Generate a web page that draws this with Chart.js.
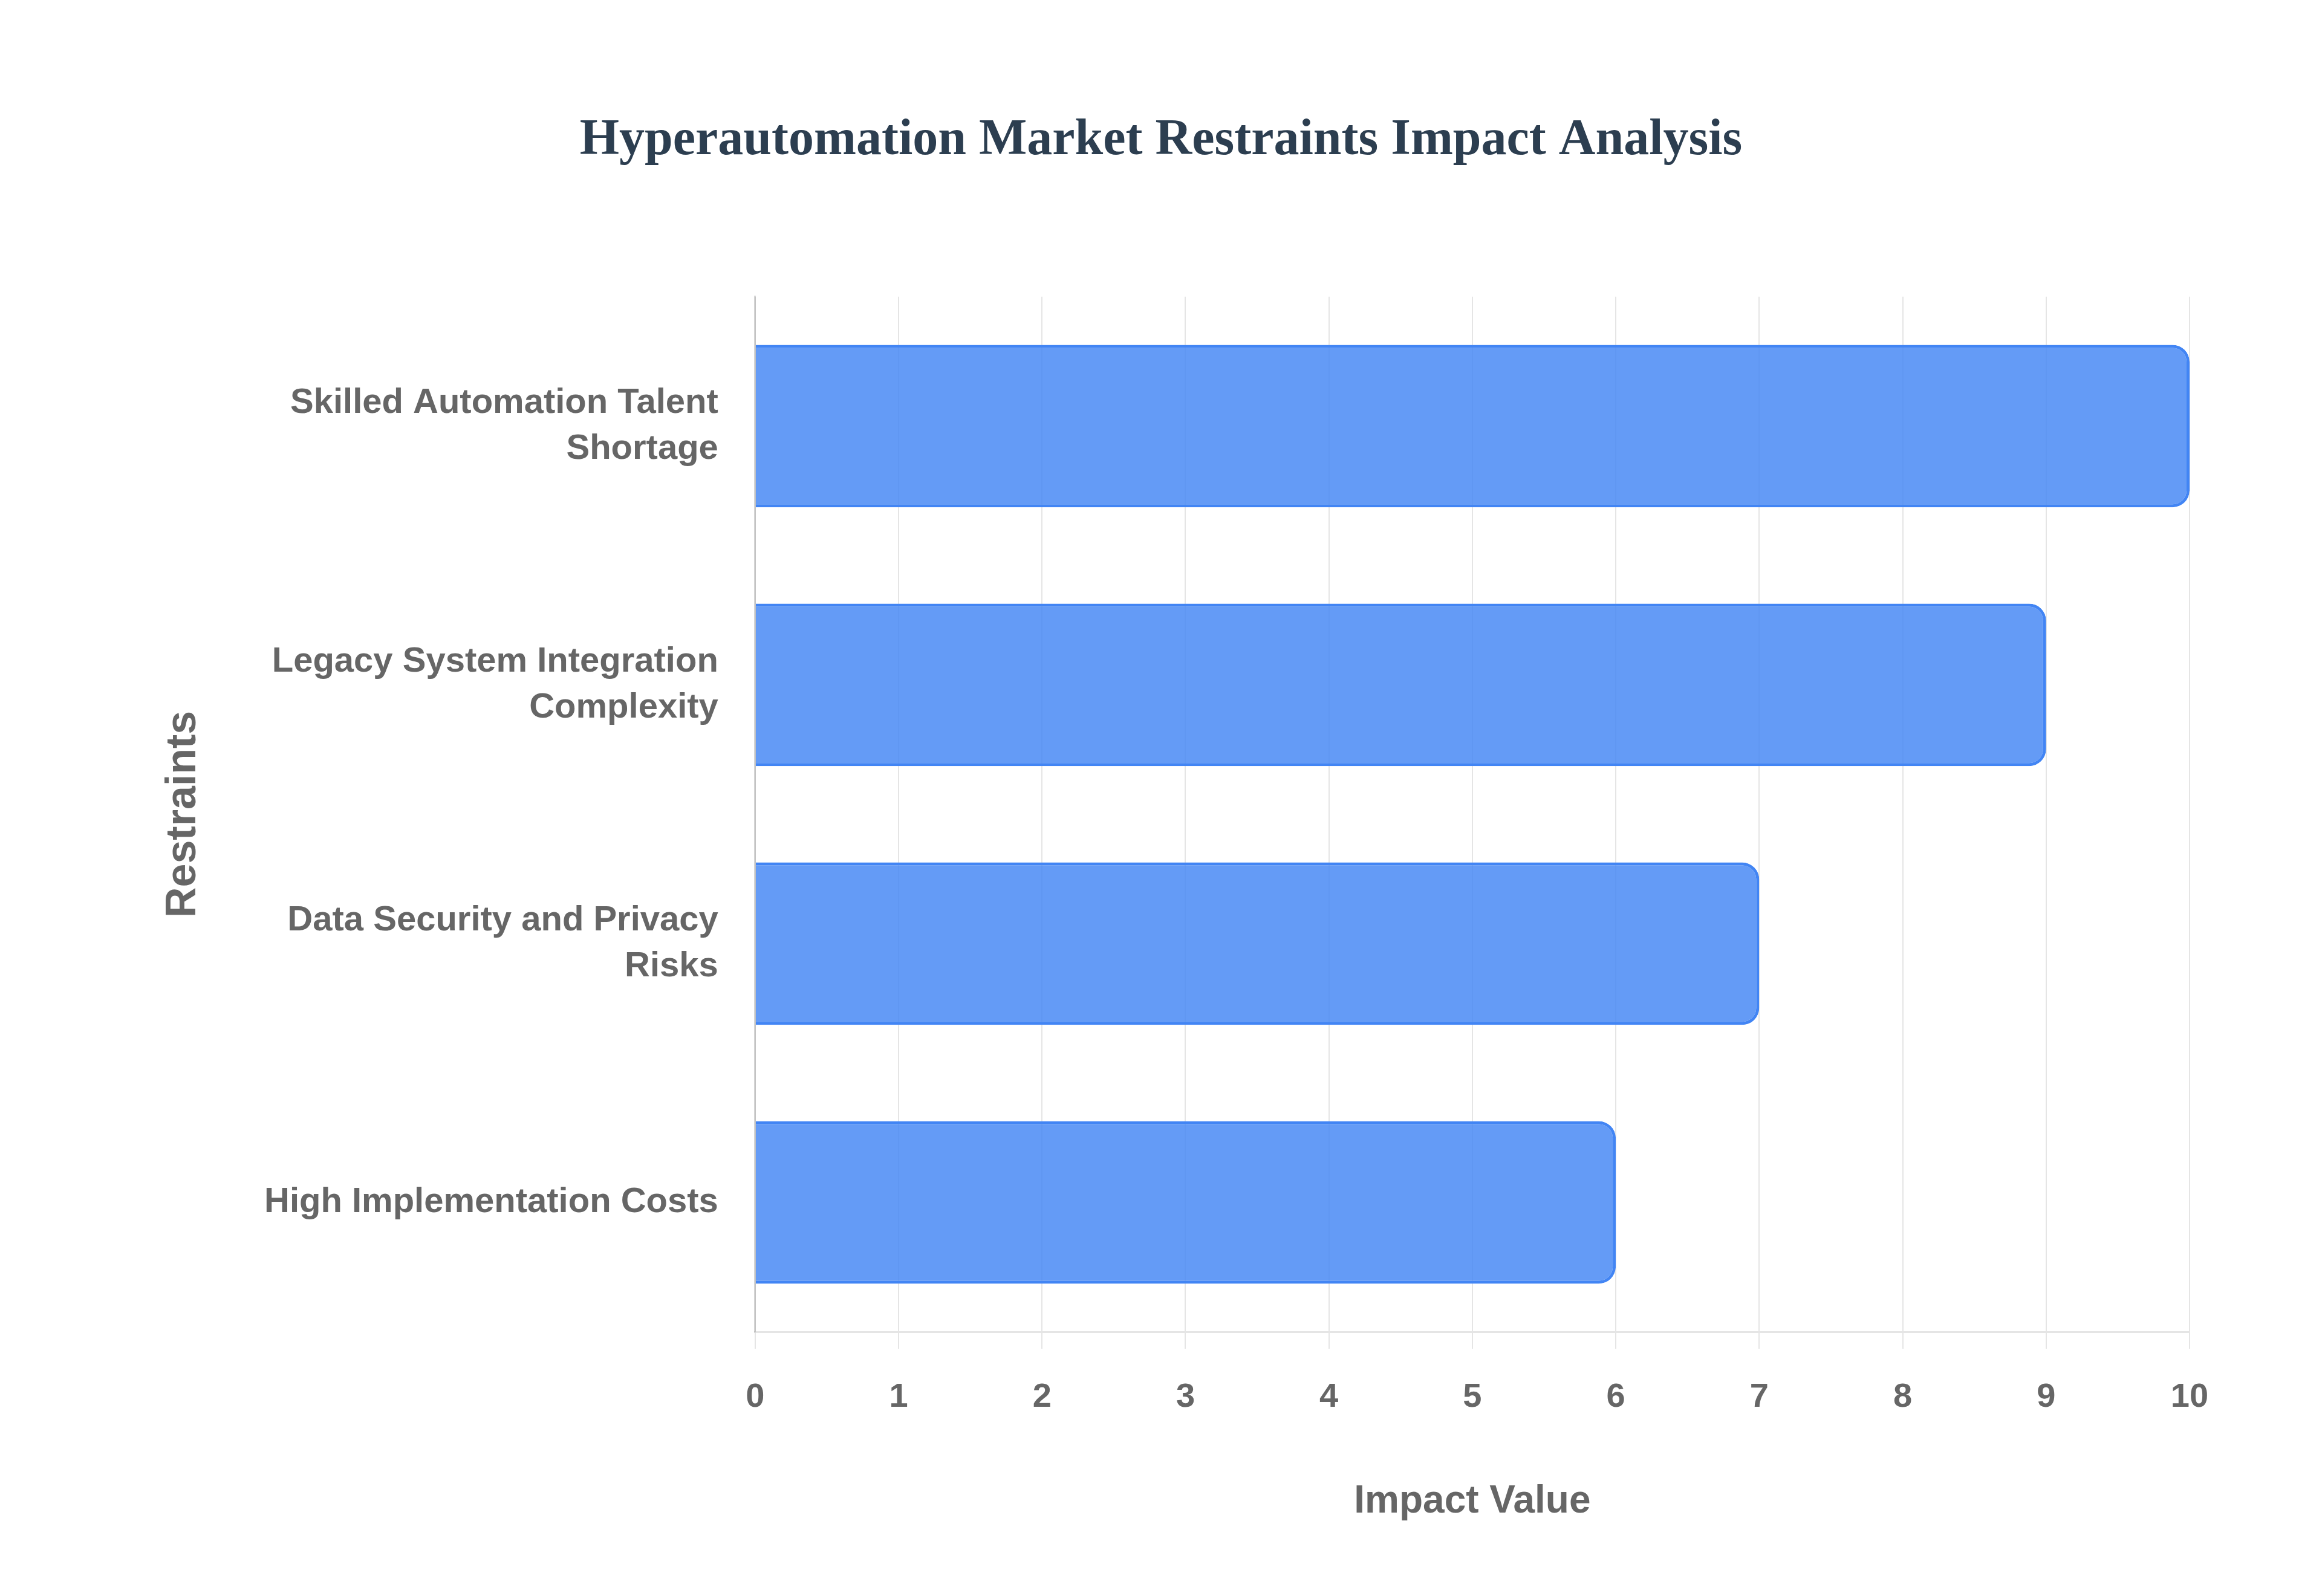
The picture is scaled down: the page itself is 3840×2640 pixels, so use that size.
<!DOCTYPE html>
<html>
<head>
<meta charset="utf-8">
<script src="https://cdn.jsdelivr.net/npm/chart.js@4"></script>
<style>
  html, body { margin: 0; padding: 0; background: #fff; }
  #wrap { width: 3840px; height: 2640px; }
</style>
</head>
<body>
<div id="wrap"><canvas id="myChart" width="3840" height="2640"></canvas></div>
<script>
// chart data
const restraints = [
    ['Skilled Automation Talent', 'Shortage'],
    ['Legacy System Integration', 'Complexity'],
    ['Data Security and Privacy', 'Risks'],
    'High Implementation Costs'
]
const impactValues = [10, 9, 7, 6]
const xTicks = [0, 1, 2, 3, 4, 5, 6, 7, 8, 9, 10]

const labelGray = '#666666'
const sans = "'Liberation Sans', Arial, sans-serif"

let ctx = document.querySelector('#myChart').getContext('2d')
let impactChart = new Chart(ctx, {
    type: 'bar',
    data: {
        labels: restraints,
        datasets: [{
            label: 'Impact Value',
            data: impactValues,
            backgroundColor: 'rgba(66, 133, 244, 0.82)',
            borderColor: 'rgb(66, 133, 244)',
            borderWidth: 5,
            borderRadius: 28,
            barPercentage: 0.8,
            categoryPercentage: 0.785
        }]
    },
    options: {
        indexAxis: 'y',
        responsive: false,
        devicePixelRatio: 1,
        animation: false,
        layout: {
            padding: { top: 140, right: 219, bottom: 100, left: 219 }
        },
        plugins: {
            legend: { display: false },
            tooltip: { enabled: false },
            title: {
                display: true,
                text: 'Hyperautomation Market Restraints Impact Analysis',
                color: '#2c3e50',
                font: { family: "'Liberation Serif', 'Times New Roman', serif", size: 84, weight: 'bold' },
                padding: { top: 43, bottom: 207 }
            }
        },
        scales: {
            x: {
                min: 0,
                max: 10,
                afterBuildTicks: axis => {
                    axis.ticks = xTicks.map(v => ({ value: v }))
                },
                grid: { color: 'rgba(0,0,0,0.1)', lineWidth: 2, tickLength: 28 },
                border: { color: 'rgba(0,0,0,0.1)', width: 3 },
                ticks: {
                    color: labelGray,
                    padding: 47,
                    font: { family: sans, size: 56, weight: 'bold' }
                },
                title: {
                    display: true,
                    text: 'Impact Value',
                    color: labelGray,
                    font: { family: sans, size: 64, weight: 'bold' },
                    padding: { top: 54, bottom: 17 }
                }
            },
            y: {
                grid: { display: false },
                border: { display: true, color: 'rgba(0,0,0,0.15)', width: 3 },
                ticks: {
                    color: labelGray,
                    padding: 53,
                    font: { family: sans, size: 58, weight: 'bold', lineHeight: 1.3 }
                },
                title: {
                    display: true,
                    text: 'Restraints',
                    color: labelGray,
                    font: { family: sans, size: 70, weight: 'bold' },
                    padding: { top: 43, bottom: 38 }
                }
            }
        }
    }
})
</script>
</body>
</html>
